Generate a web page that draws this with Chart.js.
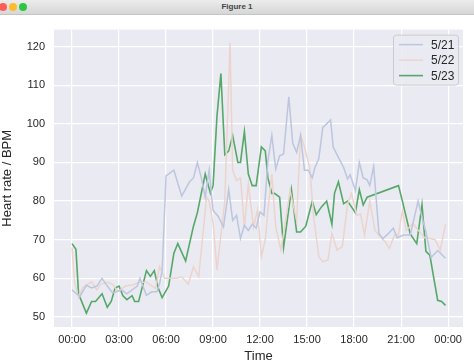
<!DOCTYPE html>
<html lang="en">
<head>
  <meta charset="UTF-8">
  <title>Figure 1</title>
  <script src="https://cdn.jsdelivr.net/npm/chart.js"></script>
  <style>
    html, body { margin: 0; padding: 0; background: white; overflow: hidden; }
    .titlebar { position: absolute; left: 0; top: 0; width: 474px; height: 14px;
      background: linear-gradient(#ececec, #d6d6d6); border-bottom: 1px solid #c4c4c4;
      font: bold 8px "Liberation Sans", Arial, sans-serif; color: #444; text-align: center; line-height: 14px; }
    .dot { position: absolute; top: 3px; width: 8px; height: 8px; border-radius: 50%; }
    #wrap { position: absolute; left: 0; top: 14px; width: 474px; height: 350px; }
  </style>
</head>
<body>
  <div class="titlebar">Figure 1
    <span class="dot" style="left:-1px;background:#fd5f57"></span>
    <span class="dot" style="left:9px;background:#febb2e"></span>
    <span class="dot" style="left:19px;background:#2ac840"></span>
  </div>
  <div id="wrap"><canvas id="hr" width="474" height="350"></canvas></div>

  <script>
    const labels = ['5/21', '5/22', '5/23'];
    const hourTicks = [0, 3, 6, 9, 12, 15, 18, 21, 24];
    const rateTicks = [50, 60, 70, 80, 90, 100, 110, 120];

    const times21 = ['00:00','00:30','00:55','01:15','01:35','01:55','02:15','02:35','02:50','03:10','03:30','03:50','04:10','04:20','04:45','05:05','05:25','05:35','05:45','06:00','06:30','07:00','07:30','07:45','08:00','08:15','08:30','08:45','09:00','09:20','09:40','10:00','10:15','10:30','10:45','11:00','11:15','11:30','11:45','12:00','12:15','12:30','12:45','13:00','13:15','13:30','13:50','14:05','14:20','14:35','14:50','15:05','15:20','15:30','15:45','16:00','16:30','16:40','17:00','17:20','17:35','17:45','18:05','18:20','18:35','18:50','19:00','19:15','19:35','19:50','20:10','20:30','20:45','21:10','21:35','22:05','22:25','22:35','22:55','23:20','23:50'];
    const hr21 = [57,55.3,58.2,57.5,58,60,58,56.3,56.5,57,56,57,58,60,55.6,56.5,56.5,58.5,62,86.5,88,81.3,85,86,90,86,81,88,77.6,76,73.3,83,75,76.3,70.3,73.7,72.4,74,73,77.2,76.3,90.4,97,88.3,91.7,92.2,107,95,92.6,97,88,88,86,88.7,91,99,101,94,91.3,88.7,85.7,86.8,82.7,90,86,85.5,84,89,71.6,70.3,71.5,73,70.5,71.2,71.2,80,74.5,72,65.4,67.2,65.2];

    const times22 = ['00:00','00:10','00:25','00:40','00:55','01:15','01:35','01:50','02:15','02:35','02:55','03:25','03:50','04:20','04:45','05:20','05:35','05:55','06:15','06:40','07:00','07:25','07:45','08:05','08:25','08:35','08:45','09:00','09:15','09:35','09:45','10:05','10:15','10:30','10:45','11:00','11:15','11:35','11:50','12:05','12:20','12:30','12:45','13:00','13:20','13:30','13:55','14:20','14:35','14:50','15:10','15:25','15:45','16:00','16:20','16:35','16:55','17:15','17:35','17:50','18:10','18:25','18:40','19:00','19:20','19:40','20:00','20:15','20:35','20:50','21:05','21:20','21:45','22:05','22:30','22:50','23:10','23:30','23:50'];
    const hr22 = [68,59,55,57.5,58.3,59.1,57,58.5,59,58.5,56.6,58,58.3,59,59,57.4,63,60,60,60,60.4,58.5,63,60.4,74,81,80,74.2,62.2,74.2,80,121,88,85.3,86,73.3,84.4,73.3,77.6,65.6,70,77.6,87,73.3,67.3,71.6,82.7,75,97.3,94,88.7,76,65.6,64.3,64.7,71.6,67.3,68.2,79.3,82,76.3,76.7,71.2,80,72.4,70.7,69.4,67.7,71.2,71.2,77.6,72.4,74.2,72.5,70.5,70.3,70,67.3,74];

    const times23 = ['00:00','00:15','00:25','00:55','01:15','01:30','01:55','02:15','02:30','02:45','03:00','03:15','03:30','03:50','04:00','04:15','04:45','05:00','05:15','05:30','05:45','06:10','06:30','06:45','07:15','07:45','08:00','08:30','08:50','09:00','09:15','09:30','09:45','10:00','10:15','10:35','10:45','11:00','11:15','11:30','11:45','12:05','12:20','12:30','12:45','12:55','13:15','13:30','14:00','14:20','14:35','14:55','15:20','15:35','15:55','16:15','16:35','16:45','17:00','17:20','17:35','18:05','18:20','18:35','18:50','20:50','21:05','21:35','22:00','22:20','22:35','22:50','23:20','23:35','23:50'];
    const hr23 = [69,67.5,56,51,54,54,56,52.5,54,57.5,58,55.5,54.5,55.5,54,54,62,60.5,62,57.5,55,58,66.5,69,64.5,73.5,77,87,82,84,102,113,92,93,97,90,90,98,87,84,84,94,93,86,82,82,81,68,83,72,72,73.5,80,76.5,78.5,80,74,82,85,79.3,80,77,83,79,81,84,80,71.5,69,79,67,66,54.3,54,53];

    const toHours = s => { const [h, m] = s.split(':').map(Number); return h + m / 60; };
    const series = (times, vals) => times.map((t, i) => ({ x: toHours(t), y: vals[i] }));

    const fontFam = '"Liberation Sans", Arial, sans-serif';

    const plotBg = {
      id: 'plotBg',
      beforeDraw(chart) {
        const { ctx, chartArea: a } = chart;
        ctx.save();
        ctx.fillStyle = '#eaeaf2';
        ctx.fillRect(a.left, a.top, a.right - a.left, a.bottom - a.top);
        ctx.restore();
      }
    };

    const boxLegend = {
      id: 'boxLegend',
      afterDraw(chart) {
        const { ctx, chartArea: a } = chart;
        const x = a.right - 70, y = a.top + 5, w = 65, h = 50;
        ctx.save();
        ctx.fillStyle = 'rgba(234,234,242,0.85)';
        ctx.strokeStyle = '#cccccc';
        ctx.lineWidth = 1;
        ctx.beginPath();
        ctx.roundRect(x + 0.5, y + 0.5, w, h, 3);
        ctx.fill();
        ctx.stroke();
        ctx.font = '12px ' + fontFam;
        ctx.textBaseline = 'middle';
        chart.data.datasets.forEach((ds, i) => {
          const ry = y + 10 + i * 15.5;
          ctx.strokeStyle = ds.borderColor;
          ctx.lineWidth = ds.borderWidth;
          ctx.beginPath();
          ctx.moveTo(x + 6, ry);
          ctx.lineTo(x + 30, ry);
          ctx.stroke();
          ctx.fillStyle = '#262626';
          ctx.fillText(ds.label, x + 38, ry + 1);
        });
        ctx.restore();
      }
    };

    new Chart(document.getElementById('hr'), {
      type: 'line',
      data: {
        datasets: [
          { label: labels[0], data: series(times21, hr21), borderColor: 'rgb(188,198,222)', borderWidth: 1.5 },
          { label: labels[1], data: series(times22, hr22), borderColor: 'rgb(236,212,204)', borderWidth: 1.5 },
          { label: labels[2], data: series(times23, hr23), borderColor: '#55a868', borderWidth: 1.6 }
        ]
      },
      options: {
        responsive: false,
        animation: false,
        parsing: true,
        elements: { point: { radius: 0 }, line: { tension: 0 } },
        layout: { padding: { left: 0, right: 11, top: 14, bottom: 0 } },
        plugins: { legend: { display: false }, tooltip: { enabled: false } },
        scales: {
          x: {
            type: 'linear',
            min: -1.15, max: 24.95,
            afterBuildTicks: s => { s.ticks = hourTicks.map(v => ({ value: v })); },
            afterFit: s => { s.height = 37; },
            ticks: {
              color: '#262626', font: { family: fontFam, size: 11 }, padding: 6,
              callback: v => String(v % 24).padStart(2, '0') + ':00'
            },
            grid: { color: '#ffffff', lineWidth: 1.2, drawTicks: false },
            border: { display: false },
            title: { display: true, text: 'Time', color: '#262626', font: { family: fontFam, size: 13 }, padding: { top: 0, bottom: 0 } }
          },
          y: {
            min: 47.4, max: 124.4,
            afterBuildTicks: s => { s.ticks = rateTicks.map(v => ({ value: v })); },
            afterFit: s => { s.width = 54; },
            ticks: { color: '#262626', font: { family: fontFam, size: 11 }, padding: 9 },
            grid: { color: '#ffffff', lineWidth: 1.2, drawTicks: false },
            border: { display: false },
            title: { display: true, text: 'Heart rate / BPM', color: '#262626', font: { family: fontFam, size: 13 }, padding: { top: 0, bottom: 2 } }
          }
        }
      },
      plugins: [plotBg, boxLegend]
    });
  </script>
</body>
</html>
